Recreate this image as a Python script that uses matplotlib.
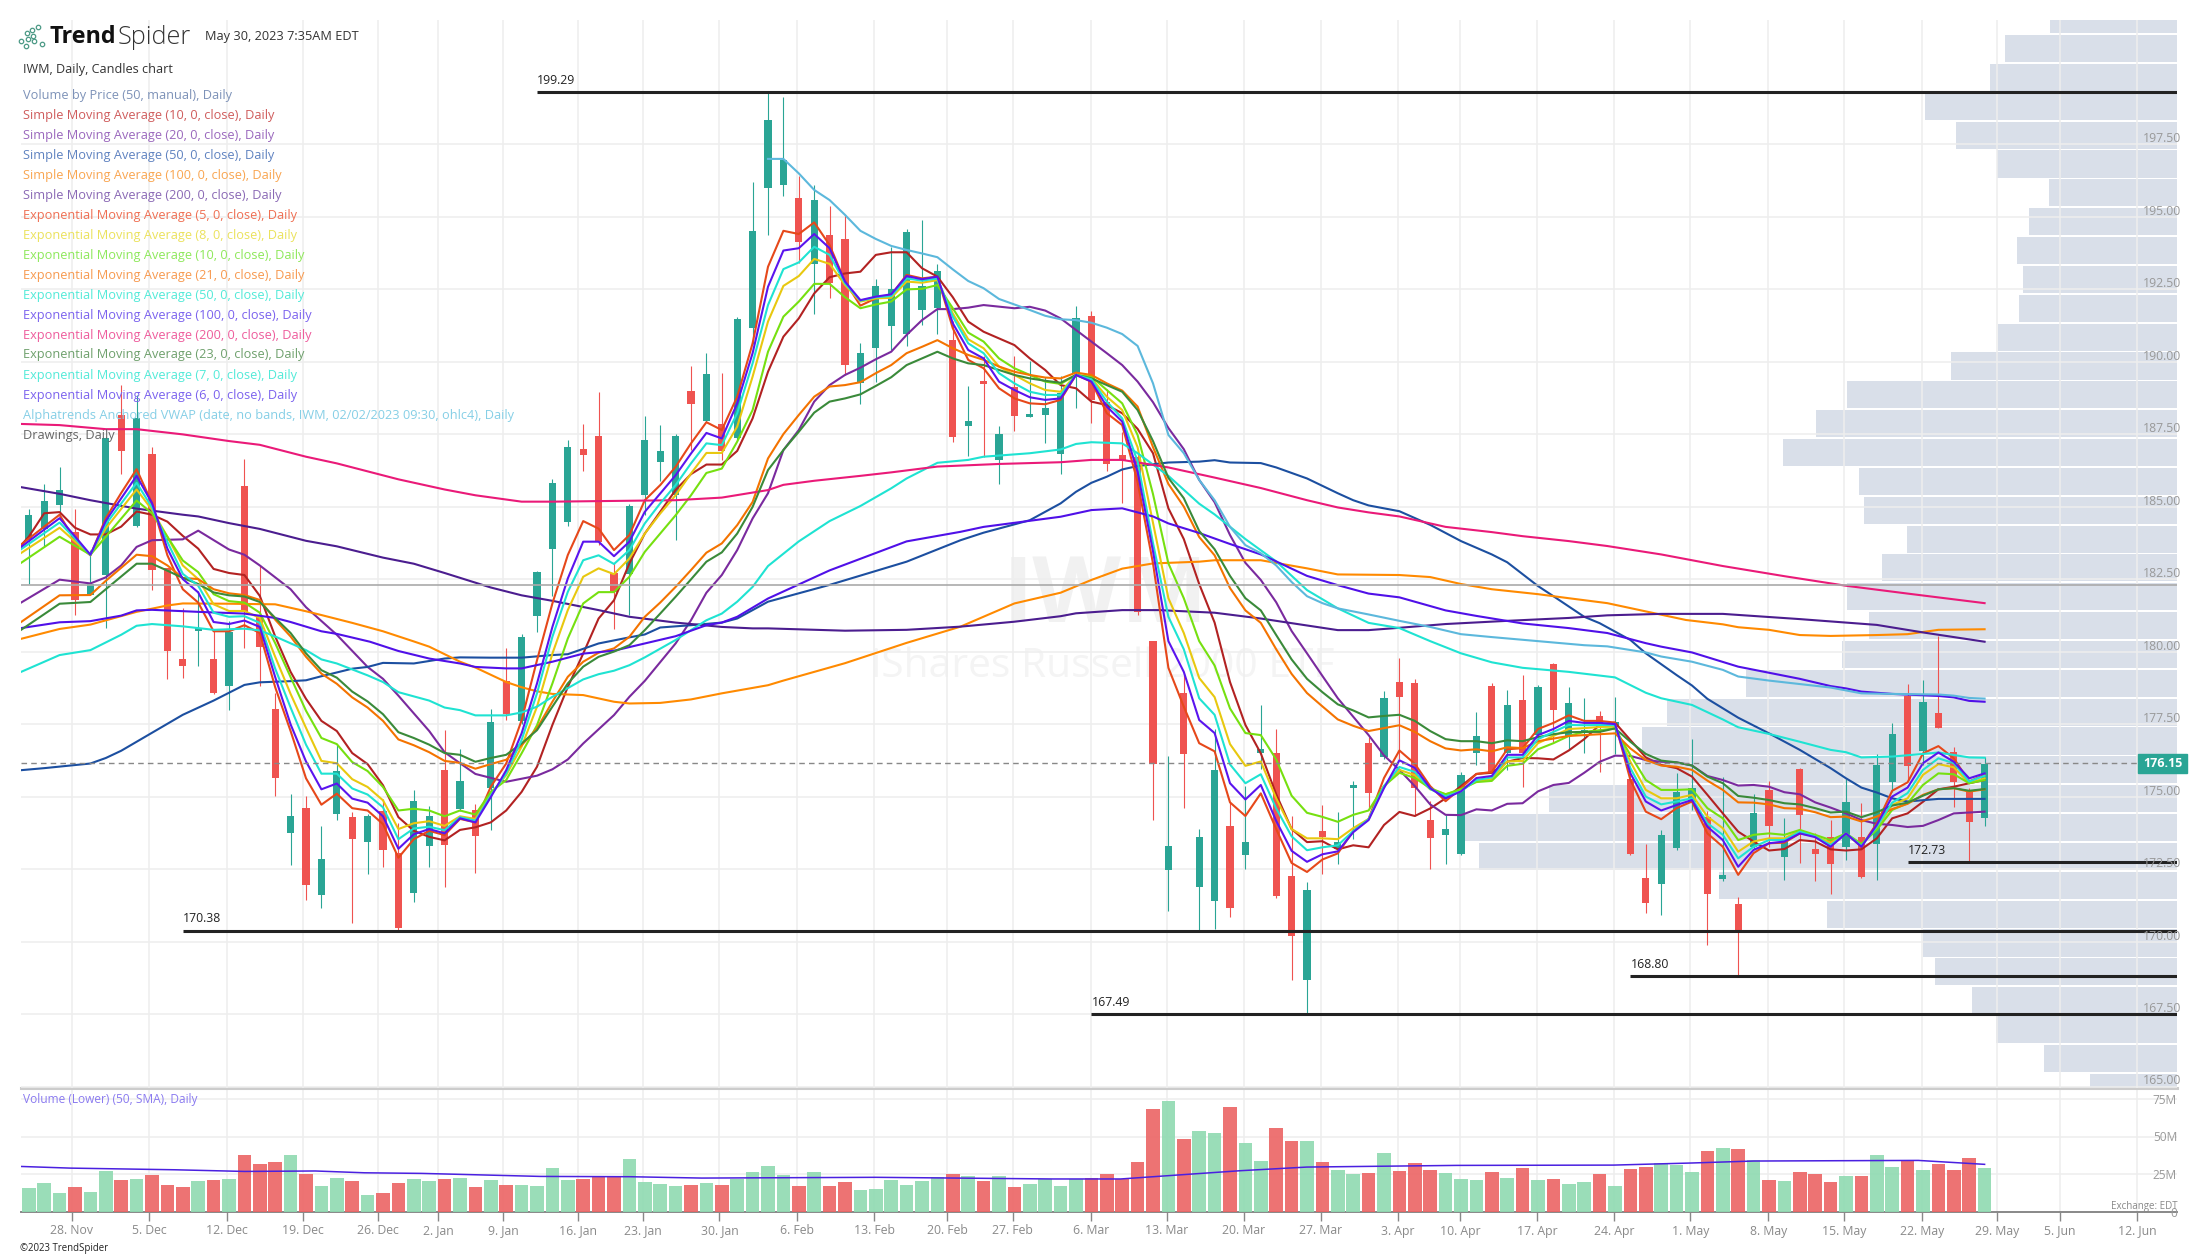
import numpy as np
import matplotlib
matplotlib.use('Agg')
import matplotlib.pyplot as plt
from matplotlib.lines import Line2D
from matplotlib.patches import Rectangle

W, H = 2207, 1259
plt.rcParams['font.family'] = ['Open Sans', 'DejaVu Sans']

# OHLC, daily candles, 128 bars from mid Nov 2022 to 26 May 2023
opens = [183.85,184.24,185.05,184.12,181.95,182.64,188.15,184.33,186.83,182.87,179.74,180.72,179.74,178.82,185.71,181.2,
         178.02,173.75,174.6,171.6,174.39,174.29,173.45,174.5,173.06,171.69,173.31,175.91,174.58,174.55,175.28,179.0,
         177.61,181.22,183.54,184.47,186.97,187.43,182.72,182.69,185.39,186.54,185.39,188.99,187.95,187.84,187.38,191.17,
         196.0,196.09,195.64,193.37,194.37,194.23,189.25,190.47,191.23,190.95,191.78,191.84,190.74,187.78,189.33,186.61,
         189.14,188.08,188.16,186.83,189.59,191.57,188.6,186.78,186.72,180.36,172.47,178.57,171.88,171.4,174.0,172.97,
         176.49,176.49,172.25,168.67,173.8,173.18,175.29,176.84,176.35,178.94,178.91,174.2,173.66,173.02,176.5,178.8,
         176.49,178.32,177.12,179.56,177.09,177.2,177.78,177.4,175.61,172.19,171.99,173.23,174.8,174.31,172.17,171.3,
         173.27,175.23,172.93,175.95,173.19,173.62,173.26,173.6,173.38,175.5,178.47,176.58,177.87,176.53,175.17,174.27]
highs = [184.9,185.77,186.35,184.9,183.5,187.4,189.2,188.84,187.04,182.87,181.5,182.1,180.75,181.05,186.64,182.97,
         178.56,175.09,175.02,173.98,176.79,174.46,174.4,174.9,174.09,175.22,174.69,177.29,176.64,174.75,178.02,180.11,
         180.62,182.77,185.94,187.31,187.84,188.95,183.04,185.1,188.12,187.81,187.5,189.85,190.29,189.62,191.55,196.18,
         199.25,199.11,196.4,196.08,195.37,195.06,190.63,192.85,193.94,194.57,194.87,193.37,191.4,189.16,190.2,187.78,
         190.19,190.02,189.48,189.5,191.91,191.75,189.04,187.58,186.8,180.36,176.39,179.23,173.88,177.33,174.8,175.36,
         178.15,177.32,174.33,172.05,174.7,174.47,175.53,177.05,178.63,179.77,179.06,174.85,174.35,175.85,177.92,178.92,
         178.66,179.18,178.84,179.59,178.77,178.39,177.94,178.42,175.92,173.37,173.85,175.8,177.0,174.5,175.66,171.53,
         175.09,175.53,174.25,176.0,173.73,174.19,175.6,174.77,176.46,177.53,178.87,179.02,180.52,176.7,175.3,176.35]
lows = [182.33,183.61,184.6,181.26,181.95,180.8,186.12,184.3,182.14,179.05,179.09,179.5,178.54,177.99,180.11,178.81,
        175.02,172.63,171.43,171.15,174.2,170.64,172.33,172.57,170.38,171.36,172.57,171.87,174.5,172.36,173.84,177.64,
        177.5,180.67,181.92,184.32,186.22,183.67,180.77,181.26,184.7,185.89,183.84,186.95,187.9,186.6,187.3,190.6,
        194.37,195.71,193.39,191.64,192.19,189.54,188.54,189.31,190.4,190.54,191.26,190.95,187.23,186.76,186.72,185.78,
        187.6,188.08,187.2,186.14,188.41,187.89,186.24,185.13,181.26,174.2,171.05,174.59,170.38,170.44,170.84,172.5,
        175.95,171.51,168.67,167.5,172.33,172.67,173.53,174.59,176.3,176.28,174.33,172.5,172.67,173.0,176.09,175.8,
        175.92,175.32,177.0,176.87,176.6,176.49,175.85,176.47,172.97,171.0,170.92,173.16,174.55,169.88,172.1,168.8,
        173.2,173.27,172.12,172.72,172.09,171.64,172.81,172.18,172.12,175.17,175.52,176.1,177.38,174.65,172.76,174.0]
closes = [184.7,185.19,185.57,181.77,182.33,187.35,186.92,188.05,182.81,180.03,179.51,180.81,178.56,180.66,181.37,180.16,
          175.65,174.34,171.94,172.86,175.88,173.53,174.34,173.15,170.47,174.83,174.32,173.33,175.53,173.64,177.57,177.84,
          180.5,182.74,185.81,187.05,186.77,183.79,182.06,185.02,187.31,186.91,187.43,188.54,189.57,186.93,191.46,194.5,
          198.33,196.95,194.14,195.57,192.7,189.88,190.29,192.61,192.5,194.46,192.61,193.12,187.41,187.95,189.23,187.5,
          188.12,188.18,188.4,188.9,191.5,188.67,186.47,186.6,181.37,176.13,173.28,176.47,173.59,175.92,171.15,173.42,
          176.63,171.56,170.19,171.77,173.6,173.42,175.39,175.11,178.39,178.43,175.29,173.57,173.87,175.74,177.09,175.85,
          178.15,176.49,178.77,177.99,178.22,177.29,177.4,177.58,173.02,171.34,173.68,175.17,175.29,171.64,172.3,170.4,
          174.42,174.0,173.45,174.37,173.02,172.68,174.8,172.24,176.09,177.16,176.07,178.26,177.38,175.5,174.14,176.14]
# volume in millions
volumes = [16.1,19.4,12.8,16.8,13.5,27.4,21.4,22.1,24.7,18.1,16.8,20.8,21.4,22.1,38,32,33.3,38,25.4,17.4,22.7,20.8,11.5,12.8,
           19.4,22.1,20.8,22.1,22.7,16.8,21.4,18.1,18.1,17.4,29.4,21.4,22.1,23.2,24.1,35.3,20,18.8,17.4,18.1,19.4,18.1,21.6,26.7,
           30.7,24.7,17.4,26.7,17.4,20,14.8,15.5,21.4,18.1,20.8,23.4,25.4,24.1,20.8,24.1,16.8,18.8,22.1,17.4,22.1,22.7,25.4,21.9,
           33.3,68.4,73.7,48.6,53.9,52.5,69.8,45.9,34,55.8,47.2,47.2,33.3,28,25.4,26,39.3,27.4,32.7,28,26,22.1,21.4,26.7,22.7,29.4,
           21.4,22.1,18.8,20,25.4,17.4,28.7,30,32.7,31.3,26.7,40.6,42.6,41.9,34.7,21.4,20.8,26.7,25.4,20,24.1,24.1,38,30,34,28,32,28,36,29.4]
vol_sma_x = [-0.5,2.7,9.5,14,18.6,21.8,25.5,33.2,39,43.7,55,66.5,70.9,74,78.7,83,92.7,102.9,108,112,122.7,127]
vol_sma = [30.2,29.1,28,26.9,27.2,26,25.6,23.6,23.4,22.5,23,21.9,21.9,24.1,27.4,29.8,30.9,31.1,32.5,33.8,34.2,31.6]

# fast averages
sma10_x = [-0.5] + list(range(128))
sma10 = [183.67,183.96,184.77,184.81,184.27,184.04,184.04,184.31,184.83,184.72,184.48,183.99,183.55,182.85,182.71,182.64,181.92,
         180.52,179.3,178.37,177.61,177.26,176.5,176.12,175.39,174.29,173.82,173.61,173.49,173.85,173.94,174.11,174.52,175.16,
         176.03,177.47,178.78,179.93,181.14,181.77,183.04,184.07,184.82,185.57,186.12,186.45,186.45,186.92,188.04,189.65,190.86,
         191.49,192.35,192.91,193.04,193.1,193.68,193.77,193.77,193.22,192.93,192.22,191.38,191.03,190.8,190.57,190.11,189.71,
         189.19,189.08,188.62,188.5,188.22,187.68,186.84,184.94,183.88,182.33,181.0,178.95,177.47,176.49,175.08,173.88,173.43,173.46,
         173.18,173.32,173.25,174.02,174.47,174.33,174.59,174.94,175.36,175.78,175.82,176.2,176.33,176.32,176.28,176.59,176.98,
         177.47,177.55,176.95,176.35,176.09,175.98,175.69,175.06,174.42,173.79,173.45,173.14,173.19,173.5,173.45,173.18,173.14,
         173.18,173.56,174.25,174.42,174.82,175.25,175.34,175.46,175.57]
ema5_x = [-0.5] + list(range(2, 128))
ema5 = [183.69,184.72,183.81,183.32,184.6,185.47,186.29,185.12,183.32,182.15,181.69,180.7,180.7,180.91,180.64,178.77,177.26,175.63,
        174.72,175.1,174.6,174.52,174.05,172.89,173.53,173.82,173.67,174.23,174.11,175.34,176.14,177.63,179.7,181.66,183.33,184.5,
        184.24,183.5,184.02,185.22,185.74,186.37,187.18,187.91,187.64,188.79,190.63,193.27,194.51,194.4,194.8,194.02,192.76,191.93,
        192.18,192.3,192.99,192.87,192.93,191.15,190.06,189.77,189.08,188.73,188.56,188.53,188.68,189.54,189.31,188.22,187.81,185.85,
        183.04,179.44,178.1,176.84,176.56,174.8,174.33,175.11,173.88,172.71,172.4,172.83,173.04,173.81,174.23,175.64,176.59,176.13,
        175.36,174.84,175.29,175.78,175.85,176.63,176.67,177.33,177.54,177.8,177.61,177.61,177.55,175.57,174.48,174.22,174.6,174.83,
        173.73,173.27,172.3,173.05,173.39,173.41,173.73,173.64,173.3,173.73,173.27,174.08,175.2,175.49,176.49,176.74,176.32,175.52,175.75]
fast_x = [-0.5, 2, 4, 5] + list(range(7, 128))
ema6 = [183.61,184.6,183.34,184.51,186.06,185.12,183.55,182.5,182.04,181.02,180.95,181.07,180.85,179.12,177.49,176.21,175.25,175.45,174.93,174.79,
        174.32,173.2,173.7,173.88,173.73,174.25,174.11,174.98,175.91,177.18,178.9,180.85,182.52,183.79,183.79,183.29,183.79,184.82,185.45,186.08,186.83,
        187.54,187.35,188.56,190.29,192.58,193.83,193.91,194.4,193.91,192.76,192.12,192.24,192.32,192.95,192.84,192.93,191.32,190.4,190.11,189.31,189.02,
        188.77,188.68,188.73,189.54,189.31,188.45,187.93,186.2,183.46,180.36,179.3,177.64,177.19,175.46,174.9,175.4,174.16,173.13,172.75,173.01,173.11,
        173.77,174.19,175.29,176.25,175.99,175.29,174.94,175.18,175.64,175.71,176.44,176.44,177.12,177.33,177.61,177.54,177.54,177.5,175.8,174.83,174.52,
        174.71,174.88,173.96,173.5,172.58,173.16,173.39,173.45,173.73,173.6,173.27,173.73,173.27,174.02,175.0,175.31,176.15,176.52,176.2,175.63,175.8]
ema7 = [183.53,184.45,183.34,184.39,185.82,184.97,183.78,182.68,182.27,181.34,181.2,181.22,180.99,179.41,178.07,176.79,175.79,175.79,175.28,175.07,
        174.63,173.53,173.9,173.96,173.84,174.29,174.17,175.04,175.8,176.95,178.56,180.51,182.06,183.15,183.32,183.02,183.5,184.42,185.11,185.74,186.49,
        187.18,187.12,188.22,189.94,191.95,193.19,193.42,193.96,193.68,192.7,192.1,192.22,192.26,192.87,192.79,192.87,191.55,190.63,190.29,189.6,189.25,
        188.96,188.85,188.85,189.54,189.39,188.62,188.04,186.56,183.74,181.2,180.08,178.39,177.82,176.11,175.46,175.77,174.59,173.63,173.15,173.25,173.32,
        173.81,174.22,175.36,176.02,175.85,175.26,175.01,175.18,175.57,175.66,176.35,176.35,176.98,177.23,177.47,177.46,177.47,177.46,175.98,175.0,174.73,
        174.83,174.94,174.08,173.68,172.87,173.27,173.5,173.5,173.79,173.62,173.33,173.73,173.3,173.96,174.79,175.12,175.92,176.32,176.15,175.52,175.72]
ema8 = [183.4,184.27,183.32,184.25,185.59,184.89,183.96,182.97,182.5,181.63,181.4,181.4,181.16,179.82,178.54,177.37,176.23,176.15,175.6,175.33,
        174.87,173.88,174.08,174.15,173.99,174.32,174.23,175.1,175.74,176.72,178.1,179.93,181.43,182.58,182.87,182.67,183.21,184.07,184.76,185.39,186.14,
        186.85,186.85,187.76,189.48,191.38,192.61,192.95,193.54,193.37,192.64,192.07,192.18,192.2,192.76,192.72,192.81,191.66,190.77,190.46,189.83,189.54,
        189.25,189.02,188.96,189.54,189.42,188.79,188.33,187.05,184.44,181.84,180.64,179.09,178.43,176.81,176.06,176.21,174.94,173.88,173.56,173.56,173.53,
        173.91,174.23,175.36,175.92,175.74,175.25,175.08,175.22,175.53,175.6,176.21,176.23,176.84,177.09,177.33,177.36,177.4,177.41,176.2,175.23,174.94,
        174.94,175.06,174.31,173.91,173.1,173.45,173.56,173.56,173.83,173.62,173.41,173.73,173.33,173.91,174.71,174.94,175.75,176.12,176.01,175.46,175.63]
ema10 = [183.06,183.96,183.34,183.96,185.21,184.77,183.96,183.14,182.74,181.98,181.74,181.69,181.34,180.29,179.12,177.96,177.02,176.81,176.19,175.88,
         175.33,174.52,174.58,174.52,174.32,174.52,174.38,175.16,175.57,176.49,177.46,178.9,180.45,181.66,182.05,182.05,182.58,183.44,184.07,184.7,185.39,
         186.16,186.31,187.24,188.33,190.34,191.55,192.07,192.68,192.68,192.22,191.84,191.97,192.07,192.49,192.51,192.64,191.84,191.0,190.69,190.11,189.77,
         189.54,189.31,189.23,189.54,189.48,189.02,188.56,187.47,185.43,183.04,181.84,180.36,179.52,178.04,177.19,177.12,176.28,175.03,174.44,174.3,174.13,
         174.37,174.52,175.36,175.82,175.64,175.29,175.08,175.26,175.5,175.54,176.06,176.13,176.63,176.84,177.09,177.23,177.29,177.35,176.43,175.57,175.23,
         175.23,175.25,174.6,174.25,173.5,173.68,173.73,173.68,173.85,173.68,173.5,173.73,173.37,173.85,174.54,174.77,175.4,175.8,175.77,175.46,175.57]

# medium averages
ema21_x = [-0.5, 2, 4, 5] + list(range(7, 128))
ema21 = [181.02,181.94,181.95,182.44,183.34,183.29,182.97,182.54,182.5,182.15,182.01,181.95,181.78,181.1,180.52,179.82,179.24,178.89,178.42,178.07,
         177.61,176.97,176.77,176.53,176.23,176.16,175.96,176.12,176.27,176.77,177.35,178.27,179.13,179.65,179.96,180.11,180.51,181.2,181.69,182.23,182.81,
         183.41,183.73,184.36,185.16,186.66,187.5,188.16,188.79,189.14,189.19,189.29,189.6,189.88,190.29,190.51,190.74,190.46,190.23,190.06,189.83,189.65,
         189.54,189.45,189.42,189.62,189.54,189.25,189.0,188.45,187.05,185.78,185.0,183.95,183.32,182.19,181.42,180.99,180.08,179.23,178.57,178.11,177.66,
         177.44,177.26,177.36,177.46,177.23,176.91,176.66,176.59,176.63,176.56,176.7,176.67,176.91,177.0,177.09,177.12,177.15,177.18,176.66,176.26,176.07,
         176.03,175.92,175.55,175.23,174.8,174.79,174.73,174.6,174.58,174.46,174.29,174.31,174.14,174.31,174.57,174.75,175.06,175.25,175.29,175.17,175.25]
ema23 = [180.75,181.65,181.71,182.15,183.03,183.03,182.79,182.54,182.33,182.04,181.94,181.9,181.71,181.16,180.64,179.94,179.36,179.1,178.62,178.28,
         177.84,177.22,177.02,176.79,176.5,176.44,176.2,176.33,176.44,176.83,177.29,178.1,178.9,179.48,179.82,180.0,180.22,180.74,181.31,181.89,182.49,
         183.1,183.42,184.07,184.99,186.26,186.95,187.58,188.24,188.62,188.73,188.87,189.16,189.46,189.88,190.11,190.34,190.11,189.94,189.88,189.71,189.54,
         189.42,189.34,189.27,189.54,189.42,189.19,188.96,188.33,187.26,185.99,185.29,184.16,183.53,182.61,181.84,181.42,180.57,179.73,179.06,178.6,178.18,
         177.97,177.73,177.78,177.82,177.61,177.26,176.98,176.91,176.91,176.84,176.94,176.91,177.05,177.15,177.22,177.23,177.23,177.35,176.89,176.47,176.24,
         176.18,176.07,175.69,175.46,175.02,174.96,174.88,174.77,174.73,174.6,174.45,174.48,174.29,174.46,174.69,174.79,175.03,175.25,175.29,175.2,175.26]
sma20_x = [-0.5,2,4,5,6,7,8,10,11,13,14,15,17,18,20,22,23,24,26,27,28,29,31,33,34,35,36,38,39,40,42,43,44,45,46,47,48,49,50,51,52,53,54,55,56,57,58,59,60,61,62,
           64,65,66,67,68,70,71,72,73,74,75,76,77,78,79,80,81,82,83,84,85,87,88,89,90,91,92,93,94,95,96,97,98,99,100,101,102,103,104,105,106,107,108,109,110,111,
           112,113,114,115,116,117,118,119,120,121,122,123,124,125,126,127]
sma20 = [181.69,182.48,182.35,182.56,182.97,183.61,183.84,183.87,184.17,183.52,183.34,182.97,182.15,181.53,180.58,179.47,179.06,178.48,177.26,176.53,176.15,175.78,175.51,
         175.72,175.94,176.28,176.83,177.81,178.44,178.99,180.28,181.08,182.03,182.64,183.5,184.59,185.46,186.95,187.64,188.62,189.19,189.54,189.79,190.08,190.34,190.92,191.43,
         191.81,191.81,191.86,191.95,191.84,191.89,191.76,191.49,191.09,190.29,189.88,189.31,188.6,187.71,186.98,185.92,185.15,184.02,183.06,182.47,181.7,180.71,179.94,179.16,
         178.39,177.12,176.42,175.92,175.36,174.73,174.37,174.36,174.56,174.52,174.75,174.77,175.18,175.4,175.47,175.82,176.2,176.41,176.4,176.26,176.2,176.18,176.07,175.71,175.57,
         175.38,175.4,175.34,175.15,175.08,174.8,174.62,174.42,174.19,174.06,174.02,173.95,173.99,174.19,174.42,174.45,174.48]

# slow averages
sma50_x = [-0.5,1,4,5,6,8,10,12,14,15,17,18,19,21,22,23,25,27,28,30,32,34,35,37,39,40,41,43,45,46,48,52,57,60.5,62,65,67,68,69,70,71,72,74,76,77,78,80,81,83,85,86,87,89,91,93,
           95,96,98,99,101,102,104,105,107,108,109,111,113,115,117,118,119,120,121,122,124,127]
sma50 = [175.91,175.98,176.14,176.33,176.58,177.2,177.82,178.31,178.85,178.94,178.98,179.01,179.15,179.41,179.47,179.61,179.59,179.76,179.8,179.79,179.79,179.88,179.91,180.28,
         180.49,180.59,180.83,180.91,181.0,181.14,181.72,182.3,183.1,183.84,184.1,184.53,185.11,185.51,185.82,186.03,186.28,186.4,186.52,186.55,186.6,186.52,186.5,186.35,185.97,185.46,
         185.22,185.04,184.84,184.37,183.81,183.35,183.08,182.26,181.91,181.2,180.98,180.4,179.94,179.19,178.83,178.37,177.72,177.18,176.61,175.98,175.63,175.31,175.14,174.94,174.83,174.92,174.92]
sma100_x = [-0.5,2,4,7,9,10,13,16,18,19,21,23,25,26,28,29,31,32,33,34,36,38,39,41,43,45,48,49,53,57,60.5,64,67,69,71,73,76,77,80,83,85,89,91,93,95,98,100,102.5,107.6,110,111,113,115,117,120,122,124,127]
sma100 = [180.44,180.78,180.93,181.37,181.59,181.66,181.65,181.63,181.39,181.26,180.99,180.7,180.35,180.17,179.65,179.45,178.95,178.77,178.63,178.54,178.5,178.27,178.21,178.23,178.35,
          178.56,178.84,179.0,179.6,180.3,180.86,181.66,182.03,182.47,182.86,183.04,183.1,183.15,183.15,182.87,182.66,182.64,182.57,182.33,182.15,181.98,181.84,181.67,181.09,180.94,180.84,180.75,180.57,180.54,180.57,180.6,180.75,180.77]
sma200_x = [-0.5,2,4,7,10,11,13,15,18,20,23,25,27,30,32,34,37,39,42,45,47,48,53,57,60.5,64,67,68,71,73.4,77,80,85,87,89,92,96,100,102.5,106,110,115,120,123,127]
sma200 = [185.67,185.44,185.22,184.93,184.72,184.66,184.43,184.23,183.82,183.63,183.24,183.03,182.71,182.21,181.94,181.75,181.43,181.2,181.0,180.85,180.8,180.8,180.72,180.75,180.86,181.03,181.22,181.32,
          181.43,181.43,181.34,181.14,180.74,180.74,180.82,180.95,181.06,181.16,181.25,181.3,181.3,181.12,180.92,180.66,180.34]
ema50_x = [-0.5,2,4,6,7,8,10,12,14,15,16,18,19,20,22,23,24,26,27,28,29,31,32,33,34,36,37,38,39,40,42,44,45,46,47,48,50,52,54,56,57,59,61,62,65,67,68,69,71,72,74,76,77,79,81,83,85,87,89,91,93,95,97,100,103,105,106,108,110,111,113,115,117,118,119,121,123,124,126,127]
ema50 = [179.3,179.88,180.05,180.58,180.89,180.95,180.87,180.75,180.79,180.73,180.52,180.05,179.73,179.59,179.18,178.95,178.6,178.31,178.07,177.98,177.8,177.8,177.9,178.1,178.44,179.04,179.22,179.34,179.53,179.8,180.4,181.08,181.31,181.72,182.23,182.95,183.8,184.5,185.02,185.63,185.97,186.51,186.61,186.72,186.84,186.97,187.16,187.22,187.18,186.84,186.06,185.1,184.73,183.88,183.11,182.12,181.49,180.99,180.81,180.36,179.94,179.63,179.44,179.3,179.11,178.58,178.39,178.16,177.66,177.39,177.16,176.89,176.61,176.53,176.35,176.38,176.47,176.52,176.35,176.34]
ema100_x = [-0.5,2,4,6,7,8,11,14,16,17,19,20,22.15,24,26,28,29,31,32,34,36,38,40,42,44,45,46,48,52,57,60.5,62,67,69,71,73,74,76,78,79,80,81,83,85,87,89,92,94,97,100,102.5,105,106,108,111,113,115,117,118,119,121,124,125,126,127]
ema100 = [180.81,181.01,181.05,181.24,181.42,181.44,181.37,181.31,181.16,181.02,180.7,180.61,180.34,180.02,179.76,179.59,179.47,179.42,179.42,179.65,179.93,180.03,180.28,180.53,180.91,181.0,181.2,181.83,182.8,183.8,184.13,184.3,184.65,184.88,184.94,184.66,184.42,184.09,183.71,183.53,183.35,183.11,182.61,182.29,182.0,181.87,181.42,181.23,180.97,180.81,180.64,180.29,180.17,179.97,179.48,179.27,179.06,178.81,178.73,178.62,178.54,178.47,178.42,178.3,178.27]
ema200_x = [-0.5,2,5,7,10,13,15,18,20,24,27,29,32,34,42,45,48,49,51,54,56,59,63,67,69,71,74,77,80,83,85,87,89,92,95,97,100,102.5,106,110,114,118,122,127]
ema200 = [187.85,187.81,187.67,187.67,187.49,187.26,187.13,186.72,186.49,185.94,185.59,185.39,185.17,185.17,185.22,185.31,185.57,185.75,185.89,186.06,186.18,186.38,186.47,186.53,186.61,186.61,186.35,186.0,185.64,185.22,184.97,184.8,184.66,184.3,184.12,183.98,183.81,183.64,183.35,182.95,182.6,182.27,182.0,181.67]
vwap_x = list(range(48, 73)) + [73,74,75,76,77,78,79,80,81,82,83,84,85,87,89,91,93,95,98,101,102.5,105,106,108,110,111,113,115,117,119,121,124,125,126,127]
vwap = [196.99,196.99,196.49,195.92,195.57,195.06,194.51,194.23,193.99,193.85,193.73,193.6,193.18,192.78,192.53,192.16,191.97,191.78,191.58,191.46,191.43,191.34,191.17,190.95,190.54,
        189.25,187.47,186.84,185.92,185.22,184.3,183.67,183.39,182.97,182.4,181.91,181.67,181.49,181.28,181.06,180.85,180.6,180.5,180.36,180.22,180.18,179.97,179.83,179.65,179.37,179.14,179.0,178.88,178.76,178.56,178.54,178.52,178.48,178.4,178.38]

# volume by price, one bin per row from the top of the pane
vbp_top = 201.79
vbp_step = 0.995
vbp = [127,172,187,252,221,180,128,148,160,154,158,179,226,330,361,394,318,313,270,295,330,308,335,431,510,535,535,628,714,698,458,350,254,242,205,181,133,87]

# drawings
level_prices = [199.29, 170.38, 167.49, 168.80, 172.73]
level_start = [33, 10, 69, 104, 122]
grey_level = 182.29
last_price = 176.15

price_ticks = [165,167.5,170,172.5,175,177.5,180,182.5,185,187.5,190,192.5,195,197.5]
vol_ticks = [25,50,75]
tick_pos = [2.8,7.8,12.85,17.8,22.65,26.6,30.8,35.65,39.9,44.85,49.9,54.9,59.65,63.9,68.95,73.9,78.9,83.9,88.9,92.95,97.95,102.95,107.9,112.95,117.9,122.95,127.8,131.9,136.9]
tick_labels = ['28. Nov','5. Dec','12. Dec','19. Dec','26. Dec','2. Jan','9. Jan','16. Jan','23. Jan','30. Jan','6. Feb','13. Feb','20. Feb','27. Feb','6. Mar',
               '13. Mar','20. Mar','27. Mar','3. Apr','10. Apr','17. Apr','24. Apr','1. May','8. May','15. May','22. May','29. May','5. Jun','12. Jun']

legend = [('Volume by Price (50, manual), Daily', '#7d92b8'),
          ('Simple Moving Average (10, 0, close), Daily', '#cf5c5c'),
          ('Simple Moving Average (20, 0, close), Daily', '#9a68bd'),
          ('Simple Moving Average (50, 0, close), Daily', '#5f82c0'),
          ('Simple Moving Average (100, 0, close), Daily', '#f9a550'),
          ('Simple Moving Average (200, 0, close), Daily', '#8a69b5'),
          ('Exponential Moving Average (5, 0, close), Daily', '#ef6f52'),
          ('Exponential Moving Average (8, 0, close), Daily', '#ebe25c'),
          ('Exponential Moving Average (10, 0, close), Daily', '#8ee85a'),
          ('Exponential Moving Average (21, 0, close), Daily', '#f7994f'),
          ('Exponential Moving Average (50, 0, close), Daily', '#52ead8'),
          ('Exponential Moving Average (100, 0, close), Daily', '#7b62ee'),
          ('Exponential Moving Average (200, 0, close), Daily', '#ee5c9c'),
          ('Exponential Moving Average (23, 0, close), Daily', '#6ea06c'),
          ('Exponential Moving Average (7, 0, close), Daily', '#52ead8'),
          ('Exponential Moving Average (6, 0, close), Daily', '#7b62ee'),
          ('Alphatrends Anchored VWAP (date, no bands, IWM, 02/02/2023 09:30, ohlc4), Daily', '#86cfe6'),
          ('Drawings, Daily', '#666666')]

TEAL = '#2aa595'
RED = '#ef5350'
GRID = '#eeeeee'


def fx(x):
    return x / W


def fy(y):
    return 1 - y / H


fig = plt.figure(figsize=(W / 100, H / 100), dpi=100)
L, R = 21, 2177
ax = fig.add_axes([fx(L), fy(1088), (R - L) / W, (1088 - 20) / H])
axv = fig.add_axes([fx(L), fy(1212), (R - L) / W, (1212 - 1090) / H])
xlim = ((L - 28.8) / 15.4, (R - 28.8) / 15.4)
for a in (ax, axv):
    a.set_xlim(xlim)
    a.set_xticks(tick_pos)
    a.grid(True, color=GRID, lw=1.1, zorder=0)
    a.set_axisbelow(True)
    for s in a.spines.values():
        s.set_visible(False)
ax.set_ylim(164.95, 201.78)
ax.set_yticks(price_ticks)
ax.tick_params(length=0, labelbottom=False, labelleft=False)
axv.set_ylim(0, 80.9)
axv.set_yticks(vol_ticks)
axv.tick_params(axis='y', length=0, labelleft=False)
axv.set_xticklabels(tick_labels, fontsize=8.8, color='#8a8a8a')
axv.tick_params(axis='x', length=6.5, width=1, color='#888888', pad=2.5)
axv.spines['bottom'].set_visible(True)
axv.spines['bottom'].set_color('#888888')
axv.spines['bottom'].set_linewidth(1.4)

# watermark
fig.text(fx(1105), fy(598), 'IWM', fontsize=66, fontweight='bold', color='#f1f1f1', ha='center', va='center', zorder=0.5)
fig.text(fx(1103), fy(667), 'iShares Russell 2000 ETF', fontsize=29.3, color='#f4f4f4', ha='center', va='center', zorder=0.5)
ax.patch.set_alpha(0)
axv.patch.set_alpha(0)

# volume by price
axp = ax.twiny()
axp.set_xlim(R - L, 0)
axp.axis('off')
axp.patch.set_alpha(0)
ax.set_zorder(2)
axp.set_zorder(1)
vbp_y = [vbp_top - vbp_step * k for k in range(len(vbp))]
axp.barh(vbp_y, vbp, height=vbp_step * 0.94, color='#b4c0d4', alpha=0.5, lw=0)

# candles
x = np.arange(len(closes))
up = np.array(closes) >= np.array(opens)
cols = [TEAL if u else RED for u in up]
ax.vlines(x, lows, highs, colors=cols, lw=0.8, zorder=3)
ax.bar(x, np.abs(np.array(closes) - np.array(opens)), 0.46, bottom=np.minimum(opens, closes), color=cols, lw=0, zorder=3.1)

# moving averages, same order as the legend
lines = [(sma10_x, sma10, '#b22222'), (sma20_x, sma20, '#7a2a9e'), (sma50_x, sma50, '#1c4fa0'),
         (sma100_x, sma100, '#ff8a00'), (sma200_x, sma200, '#4b1d8f'), (ema5_x, ema5, '#e6481a'),
         (fast_x, ema8, '#e8c80f'), (fast_x, ema10, '#76e010'), (ema21_x, ema21, '#f47300'),
         (ema50_x, ema50, '#1fe3d2'), (ema100_x, ema100, '#5010e8'), (ema200_x, ema200, '#ea1a78'),
         (ema21_x, ema23, '#3a8a3a'), (fast_x, ema7, '#1fe3d2'), (fast_x, ema6, '#5a14ee'), (vwap_x, vwap, '#5cb8dc')]
for lx, ly, c in lines:
    assert len(lx) == len(ly), (c, len(lx), len(ly))
    ax.plot(lx, ly, color=c, lw=1.5, zorder=4, solid_joinstyle='round')

# drawings
ax.axhline(grey_level, color='#aaaaaa', lw=1.2, zorder=4)
ax.axhline(last_price, color='#888888', lw=1, ls=(0, (4, 3)), zorder=4)
for p, s in zip(level_prices, level_start):
    ax.plot([s, xlim[1]], [p, p], color='#222222', lw=2.2, zorder=5, solid_capstyle='butt')
    ax.annotate(f'{p:.2f}', xy=(s, p), xytext=(0, 4), textcoords='offset points', fontsize=8.8, color='#222222', va='bottom', ha='left', zorder=5)

# price labels
for p in price_ticks:
    ax.annotate(f'{p:.2f}', xy=(1, p), xycoords=('axes fraction', 'data'), xytext=(3, 4), textcoords='offset points',
                fontsize=8.8, color='#999999', ha='right', va='center', zorder=6)
fig.add_artist(Rectangle((fx(2138), fy(773)), 49 / W, 19 / H, color=TEAL, transform=fig.transFigure, zorder=7))
fig.text(fx(2162.5), fy(763.5), f'{last_price:.2f}', color='white', fontsize=9, fontweight='bold', ha='center', va='center', zorder=8)

# volume pane
vcols = ['#8fdab1' if u else '#ec6464' for u in up]
axv.bar(x, volumes, 0.88, color=vcols, alpha=0.9, lw=0, zorder=3)
axv.plot(vol_sma_x, vol_sma, color='#4a20e0', lw=1.1, zorder=4)
for v in vol_ticks:
    axv.annotate(f'{v}M', xy=(1, v), xycoords=('axes fraction', 'data'), xytext=(0, -1), textcoords='offset points',
                 fontsize=8.6, color='#999999', ha='right', va='center')
axv.annotate('0', xy=(1, 0), xycoords='axes fraction', xytext=(0, -1), textcoords='offset points', fontsize=8.6, color='#999999', ha='right', va='center')
fig.text(fx(2178), fy(1206), 'Exchange: EDT', fontsize=7, color='#888888', ha='right', va='center')
fig.text(fx(23), fy(1100), 'Volume (Lower) (50, SMA), Daily', fontsize=8.6, color='#8a7af0', va='center')
fig.add_artist(Line2D([fx(L), fx(R)], [fy(1088), fy(1088)], color='#cccccc', lw=2.2, transform=fig.transFigure))

# header
fig.text(fx(50), fy(37), 'Trend', fontsize=16.8, fontweight='bold', color='#111111', va='center')
fig.text(fx(118), fy(37), 'Spider', fontsize=18.2, fontweight='light', color='#333333', va='center')
fig.text(fx(205), fy(36.5), 'May 30, 2023 7:35AM EDT', fontsize=9.2, color='#333333', va='center')
logo_x = [21, 27, 32, 38, 28, 34, 42, 26, 33]
logo_y = [41, 33, 30, 27, 39, 41, 44, 46, 36]
fig.add_artist(Line2D([fx(v) for v in logo_x], [fy(v) for v in logo_y], ls='none', marker='o', ms=3.2, mfc='white',
                      mec='#4d9a86', mew=0.9, transform=fig.transFigure))
fig.text(fx(23), fy(69), 'IWM, Daily, Candles chart', fontsize=9.1, color='#333333', va='center', zorder=9)
for k, (txt, c) in enumerate(legend):
    fig.text(fx(23), fy(95 + 20 * k), txt, fontsize=9.2, color=c, va='center', zorder=9)
fig.text(fx(20), fy(1249), '©2023 TrendSpider', fontsize=6.9, color='#222222', va='center')

fig.savefig('out.png', dpi=100)
